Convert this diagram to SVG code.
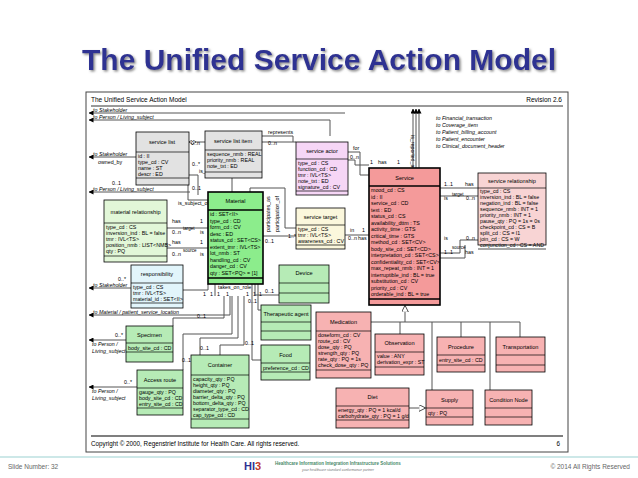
<svg xmlns="http://www.w3.org/2000/svg" width="638" height="478" viewBox="0 0 638 478">
<style>
text{font-family:"Liberation Sans",Arial,sans-serif;fill:#000}
.a{font-size:5.3px}
.h{font-size:5.6px;text-anchor:middle}
.l{font-size:5.3px}
.i{font-size:5.3px;font-style:italic}
.b{stroke:#000;stroke-width:0.8}
.bb{stroke:#000;stroke-width:1.6}
.c{fill:none;stroke:#555;stroke-width:1}
.s{stroke:#000;stroke-width:0.7}
.gr{fill:#e2e2e2}.pu{fill:#f6d6f6}.rd{fill:#f49a9a}.pk{fill:#f8d4d4}.ye{fill:#fbf7dc}.gn{fill:#8ced8c}.lg{fill:#e2f7d8}.lb{fill:#e2f5fb}.mg{fill:#b6ebb6}.pr{fill:#f7b2b2}
</style>
<defs>
<marker id="fa" viewBox="0 0 10 10" refX="9" refY="5" markerWidth="5" markerHeight="5" orient="auto"><path d="M0,0L10,5L0,10z" fill="#000"/></marker>
<marker id="ha" viewBox="0 0 10 10" refX="9" refY="5" markerWidth="7" markerHeight="7" orient="auto"><path d="M0,0L10,5L0,10z" fill="#fff" stroke="#000"/></marker>
<marker id="dm" viewBox="0 0 12 8" refX="0" refY="4" markerWidth="7" markerHeight="5" orient="auto"><path d="M0,4L6,0L12,4L6,8z" fill="#fff" stroke="#000"/></marker>
<filter id="sh"><feDropShadow dx="1.5" dy="1.5" stdDeviation="0.8" flood-color="#888"/></filter>
</defs>
<rect width="638" height="478" fill="#fff"/>
<text x="319" y="70" text-anchor="middle" style="font-size:30px;font-weight:bold;fill:#2e3192" filter="url(#sh)">The Unified Service Action Model</text>
<rect x="86" y="92" width="482" height="360" fill="#fff" stroke="#444" stroke-width="1"/>
<text x="91" y="102" style="font-size:6.5px">The Unified Service Action Model</text>
<text x="562" y="102" text-anchor="end" style="font-size:6.5px">Revision 2.6</text>
<line x1="91" y1="106" x2="563" y2="106" stroke="#000" stroke-width="0.8"/>
<line x1="91" y1="436" x2="563" y2="436" stroke="#000" stroke-width="1.2"/>
<text x="91" y="446" style="font-size:6.3px">Copyright © 2000, Regenstrief Institute for Health Care.  All rights reserved.</text>
<text x="560" y="446" text-anchor="end" style="font-size:6.3px">6</text>
<line x1="0" y1="457" x2="638" y2="457" stroke="#bde0e0" stroke-width="1.5"/>
<text x="8" y="469" style="font-size:6.5px;fill:#666">Slide Number: 32</text>
<text x="630" y="469" text-anchor="end" style="font-size:6.5px;fill:#666">© 2014 All Rights Reserved</text>
<text x="244" y="470" style="font-size:11px;font-weight:bold;fill:#2e3192">HI<tspan style="fill:#c0392b">3</tspan></text>
<text x="275" y="465" style="font-size:4.5px;font-weight:bold;fill:#4a8a6a">Healthcare Information Integration Infrastructure Solutions</text>
<text x="302" y="471" style="font-size:3.5px;font-style:italic;fill:#777">your healthcare standard conformance partner</text>

<g id="connectors">
<path class="c" d="M345,113H89" marker-end="url(#fa)"/>
<path class="c" d="M330,136V120H89" marker-end="url(#fa)"/>
<path class="c" d="M136,157H89" marker-end="url(#fa)"/>
<path class="c" d="M190,192H89" marker-end="url(#fa)"/>
<path class="c" d="M131,288H89" marker-end="url(#fa)"/>
<path class="c" d="M230,296V315H89" marker-end="url(#fa)"/>
<path class="c" d="M126,340H89" marker-end="url(#fa)"/>
<path class="c" d="M137,387H89" marker-end="url(#fa)"/>
<path class="c" d="M189,142H205" marker-start="url(#dm)"/>
<path class="c" d="M262,142H296"/>
<path class="c" d="M189,175H198V195"/>
<path class="c" d="M188,184V200H208"/>
<path class="c" d="M232,178V192"/>
<path class="c" d="M167,228H208"/>
<path class="c" d="M167,248H208"/>
<path class="c" d="M262,136H293V142"/>
<path class="c" d="M348,152H360V175H369"/>
<path class="c" d="M348,160H355V165H369"/>
<path class="c" d="M263,236H296"/>
<path class="c" d="M250,192V188H285V228H296"/>
<path class="c" d="M345,235H369"/>
<path class="c" d="M440,188H478"/>
<path class="c" d="M440,196H478"/>
<path class="c" d="M440,253H460V240H478"/>
<path class="c" d="M440,258H465V245"/>
<path class="c" d="M413,168V109" marker-end="url(#fa)"/>
<path class="c" d="M416,168V109" marker-end="url(#fa)"/>
<path class="c" d="M419,168V109" marker-end="url(#fa)"/>
<path class="c" d="M258,284V310H261"/>
<path class="c" d="M255,284V295H279"/>
<path class="c" d="M252,284V360H261"/>
<path class="c" d="M244,296V345H220V355"/>
<path class="c" d="M238,296V338H200V355"/>
<path class="c" d="M232,296V334H183V370"/>
<path class="c" d="M224,296V318H173V326"/>
<path class="c" d="M215,284V296"/>
<path class="c" d="M208,284V290H183"/>
<path class="c" d="M405,322V306" marker-end="url(#ha)"/>
<path class="c" d="M371,322H520"/>
<path class="c" d="M400,322V334M461,322V337M520,322V337M432,322V390M490,322V390"/>
<path class="c" d="M409,408H425" marker-end="url(#ha)"/>
</g>

<g id="edge-labels">
<text class="i" x="93" y="112">to Stakeholder</text>
<text class="i" x="93" y="119">to Person / Living_subject</text>
<text class="i" x="93" y="156">to Stakeholder</text>
<text class="l" x="98" y="164">owned_by</text>
<text class="l" x="112" y="185">0..1</text>
<text class="i" x="93" y="191">to Person / Living_subject</text>
<text class="l" x="118" y="281">0..*</text>
<text class="i" x="93" y="287">to Stakeholder</text>
<text class="i" x="93" y="314">to Material / patient_service_location</text>
<text class="l" x="115" y="337">0..*</text>
<text class="i" x="92" y="346">to Person /</text>
<text class="i" x="92" y="353">Living_subject</text>
<text class="l" x="124" y="384">0..*</text>
<text class="i" x="92" y="393">to Person /</text>
<text class="i" x="92" y="400">Living_subject</text>
<text class="l" x="191" y="145">0..n</text>
<text class="l" x="268" y="134">represents</text>
<text class="l" x="268" y="145">0..n</text>
<text class="l" x="192" y="166">0..*</text>
<text class="l" x="199" y="173">is_about</text>
<text class="l" x="192" y="190">0..1</text>
<text class="l" x="178" y="205">is_subject_of</text>
<text class="l" x="172" y="223">has</text><text class="l" x="200" y="223">1</text>
<text class="l" x="172" y="234">0..n</text><text class="l" x="183" y="230" style="font-size:4.5px">target</text><text class="l" x="200" y="234">is</text>
<text class="l" x="172" y="244">has</text><text class="l" x="200" y="244">1</text>
<text class="l" x="172" y="256">0..n</text><text class="l" x="183" y="252" style="font-size:4.5px">source</text><text class="l" x="200" y="256">is</text>
<text class="l" x="353" y="150">for</text>
<text class="l" x="350" y="159">0..n</text>
<text class="l" x="370" y="164">1</text><text class="l" x="378" y="164">has</text><text class="l" x="397" y="164">1</text>
<text class="l" x="265" y="243">0..1</text>
<text class="l" x="270" y="232" transform="rotate(-90 270 232)">participates_as</text>
<text class="l" x="279" y="232" transform="rotate(-90 279 232)">participation_of</text>
<text class="l" x="288" y="238">1..*</text>
<text class="l" x="350" y="232">in</text><text class="l" x="362" y="232">1</text>
<text class="l" x="348" y="240">0..n</text><text class="l" x="358" y="240">has</text>
<text class="l" x="411" y="135" transform="rotate(90 411 135)">is_reported_as</text>
<text class="i" x="436" y="120">to Financial_transaction</text>
<text class="i" x="436" y="127">to Coverage_item</text>
<text class="i" x="436" y="134">to Patient_billing_account</text>
<text class="i" x="436" y="141">to Patient_encounter</text>
<text class="i" x="436" y="148">to Clinical_document_header</text>
<text class="l" x="444" y="186">1..1</text><text class="l" x="465" y="186">has</text>
<text class="l" x="444" y="200">is</text><text class="l" x="452" y="196" style="font-size:4.5px">target</text><text class="l" x="466" y="200">0..n</text>
<text class="l" x="444" y="240">is</text><text class="l" x="466" y="240">0..n</text>
<text class="l" x="444" y="254">1..1</text><text class="l" x="452" y="249" style="font-size:4.5px">source</text><text class="l" x="465" y="254">has</text>
<text class="l" x="218" y="289">takes_on_role</text>
<text class="l" x="203" y="296">1</text><text class="l" x="210" y="296">1</text><text class="l" x="217" y="296">1</text><text class="l" x="226" y="296">1</text>
<text class="l" x="246" y="296">1</text><text class="l" x="253" y="296">1</text><text class="l" x="259" y="296">1</text><text class="l" x="265" y="293">0..1</text>
<text class="l" x="248" y="303">0..1</text>
<text class="l" x="197" y="318">0..1</text>
<text class="l" x="200" y="350">0..1</text>
<text class="l" x="182" y="362">0..1</text>
<text class="l" x="245" y="345">0..1</text>
</g>

<g id="service-list"><rect class="gr b" x="136" y="132" width="53" height="53"/><line class="s" x1="136" y1="152" x2="189" y2="152"/><line class="s" x1="136" y1="178" x2="189" y2="178"/><text class="h" x="162" y="144">service list</text><text class="a" x="138" y="158">id : II</text><text class="a" x="138" y="164">type_cd : CV</text><text class="a" x="138" y="170">name : ST</text><text class="a" x="138" y="176">descr : ED</text></g>
<g id="service-list-item"><rect class="gr b" x="205" y="131" width="57" height="47"/><line class="s" x1="205" y1="150" x2="262" y2="150"/><line class="s" x1="205" y1="172" x2="262" y2="172"/><text class="h" x="233" y="143">service list item</text><text class="a" x="207" y="156">sequence_nmb : REAL</text><text class="a" x="207" y="162">priority_nmb : REAL</text><text class="a" x="207" y="168">note_txt : ED</text></g>
<g id="service-actor"><rect class="pu b" x="296" y="142" width="52" height="53"/><line class="s" x1="296" y1="159" x2="348" y2="159"/><line class="s" x1="296" y1="191" x2="348" y2="191"/><text class="h" x="322" y="153">service actor</text><text class="a" x="298" y="165">type_cd : CS</text><text class="a" x="298" y="171">function_cd : CD</text><text class="a" x="298" y="177">tmr : IVL&lt;TS&gt;</text><text class="a" x="298" y="183">note_txt : ED</text><text class="a" x="298" y="189">signature_cd : CV</text></g>
<g id="service"><rect class="rd bb" x="369" y="168" width="71" height="137"/><line class="bb" x1="369" y1="186" x2="440" y2="186"/><line class="bb" x1="369" y1="299" x2="440" y2="299"/><text class="h" x="404.5" y="180">Service</text>
<text class="a" x="371" y="192">mood_cd : CS</text><text class="a" x="371" y="198.5">id : II</text><text class="a" x="371" y="205">service_cd : CD</text><text class="a" x="371" y="211.5">text : ED</text><text class="a" x="371" y="218">status_cd : CS</text><text class="a" x="371" y="224.5">availability_dttm : TS</text><text class="a" x="371" y="231">activity_time : GTS</text><text class="a" x="371" y="237.5">critical_time : GTS</text><text class="a" x="371" y="244">method_cd : SET&lt;CV&gt;</text><text class="a" x="371" y="250.5">body_site_cd : SET&lt;CD&gt;</text><text class="a" x="371" y="257">interpretation_cd : SET&lt;CS&gt;</text><text class="a" x="371" y="263.5">confidentiality_cd : SET&lt;CV&gt;</text><text class="a" x="371" y="270">max_repeat_nmb : INT = 1</text><text class="a" x="371" y="276.5">interruptible_ind : BL = true</text><text class="a" x="371" y="283">substitution_cd : CV</text><text class="a" x="371" y="289.5">priority_cd : CV</text><text class="a" x="371" y="296">orderable_ind : BL = true</text></g>
<g id="service-relationship"><rect class="pk b" x="478" y="173" width="68" height="72"/><line class="s" x1="478" y1="188" x2="546" y2="188"/><line class="s" x1="478" y1="249" x2="546" y2="249"/><text class="h" x="512" y="183">service relationship</text><text class="a" x="480" y="193">type_cd : CS</text><text class="a" x="480" y="199">inversion_ind : BL = false</text><text class="a" x="480" y="205">negation_ind : BL = false</text><text class="a" x="480" y="211">sequence_nmb : INT = 1</text><text class="a" x="480" y="217">priority_nmb : INT = 1</text><text class="a" x="480" y="223">pause_qty : PQ = 1s = 0s</text><text class="a" x="480" y="229">checkpoint_cd : CS = B</text><text class="a" x="480" y="235">split_cd : CS = I1</text><text class="a" x="480" y="241">join_cd : CS = W</text><text class="a" x="480" y="247">conjunction_cd : CS = AND</text></g>
<g id="service-target"><rect class="ye b" x="296" y="208" width="49" height="41"/><line class="s" x1="296" y1="225" x2="345" y2="225"/><line class="s" x1="296" y1="245" x2="345" y2="245"/><text class="h" x="320.5" y="219">service target</text><text class="a" x="298" y="231">type_cd : CS</text><text class="a" x="298" y="237">tmr : IVL&lt;TS&gt;</text><text class="a" x="298" y="243">awareness_cd : CV</text></g>
<g id="material"><rect class="gn bb" x="208" y="192" width="55" height="92"/><line class="bb" x1="208" y1="210" x2="263" y2="210"/><line class="bb" x1="208" y1="278" x2="263" y2="278"/><text class="h" x="235.5" y="203">Material</text><text class="a" x="210" y="216">id : SET&lt;II&gt;</text><text class="a" x="210" y="222.5">type_cd : CD</text><text class="a" x="210" y="229">form_cd : CV</text><text class="a" x="210" y="235.5">desc : ED</text><text class="a" x="210" y="242">status_cd : SET&lt;CS&gt;</text><text class="a" x="210" y="248.5">extent_tmr : IVL&lt;TS&gt;</text><text class="a" x="210" y="255">lot_nmb : ST</text><text class="a" x="210" y="261.5">handling_cd : CV</text><text class="a" x="210" y="268">danger_cd : CV</text><text class="a" x="210" y="274.5">qty : SET&lt;PQ&gt; = [1]</text></g>
<g id="material-relationship"><rect class="lg b" x="104" y="200" width="63" height="62"/><line class="s" x1="104" y1="223" x2="167" y2="223"/><line class="s" x1="104" y1="256" x2="167" y2="256"/><text class="h" x="135.5" y="214">material relationship</text><text class="a" x="106" y="229">type_cd : CS</text><text class="a" x="106" y="235">inversion_ind : BL = false</text><text class="a" x="106" y="241">tmr : IVL&lt;TS&gt;</text><text class="a" x="106" y="247">position_nmb : LIST&lt;NMB&gt;</text><text class="a" x="106" y="253">qty : PQ</text></g>
<g id="responsibility"><rect class="lb b" x="131" y="265" width="52" height="43"/><line class="s" x1="131" y1="283" x2="183" y2="283"/><line class="s" x1="131" y1="303" x2="183" y2="303"/><text class="h" x="157" y="276">responsibility</text><text class="a" x="133" y="289">type_cd : CS</text><text class="a" x="133" y="295">tmr : IVL&lt;TS&gt;</text><text class="a" x="133" y="301">material_id : SET&lt;II&gt;</text></g>
<g id="device"><rect class="mg b" x="279" y="265" width="50" height="38"/><line class="s" x1="279" y1="283" x2="329" y2="283"/><line class="s" x1="279" y1="293" x2="329" y2="293"/><text class="h" x="304" y="275">Device</text></g>
<g id="therapeutic-agent"><rect class="mg b" x="261" y="305" width="50" height="35"/><line class="s" x1="261" y1="322" x2="311" y2="322"/><line class="s" x1="261" y1="331" x2="311" y2="331"/><text class="h" x="286" y="316">Therapeutic agent</text></g>
<g id="specimen"><rect class="mg b" x="126" y="326" width="47" height="36"/><line class="s" x1="126" y1="343" x2="173" y2="343"/><line class="s" x1="126" y1="352" x2="173" y2="352"/><text class="h" x="149.5" y="337">Specimen</text><text class="a" x="128" y="350">body_site_cd : CD</text></g>
<g id="container"><rect class="mg b" x="191" y="355" width="58" height="73"/><line class="s" x1="191" y1="375" x2="249" y2="375"/><line class="s" x1="191" y1="419" x2="249" y2="419"/><text class="h" x="220" y="367">Container</text><text class="a" x="193" y="381">capacity_qty : PQ</text><text class="a" x="193" y="387">height_qty : PQ</text><text class="a" x="193" y="393">diameter_qty : PQ</text><text class="a" x="193" y="399">barrier_delta_qty : PQ</text><text class="a" x="193" y="405">bottom_delta_qty : PQ</text><text class="a" x="193" y="411">separator_type_cd : CD</text><text class="a" x="193" y="417">cap_type_cd : CD</text></g>
<g id="food"><rect class="mg b" x="261" y="345" width="49" height="35"/><line class="s" x1="261" y1="363" x2="310" y2="363"/><line class="s" x1="261" y1="372" x2="310" y2="372"/><text class="h" x="285.5" y="357">Food</text><text class="a" x="263" y="370">preference_cd : CD</text></g>
<g id="access-route"><rect class="mg b" x="137" y="370" width="46" height="45"/><line class="s" x1="137" y1="388" x2="183" y2="388"/><line class="s" x1="137" y1="408" x2="183" y2="408"/><text class="h" x="160" y="382">Access route</text><text class="a" x="139" y="394">gauge_qty : PQ</text><text class="a" x="139" y="400">body_site_cd : CD</text><text class="a" x="139" y="406">entry_site_cd : CD</text></g>
<g id="medication"><rect class="pr b" x="316" y="312" width="55" height="66"/><line class="s" x1="316" y1="331" x2="371" y2="331"/><line class="s" x1="316" y1="370" x2="371" y2="370"/><text class="h" x="343.5" y="324">Medication</text><text class="a" x="318" y="337">doseform_cd : CV</text><text class="a" x="318" y="343">route_cd : CV</text><text class="a" x="318" y="349">dose_qty : PQ</text><text class="a" x="318" y="355">strength_qty : PQ</text><text class="a" x="318" y="361">rate_qty : PQ = 1s</text><text class="a" x="318" y="367">check_dose_qty : PQ</text></g>
<g id="observation"><rect class="pr b" x="375" y="334" width="49" height="41"/><line class="s" x1="375" y1="352" x2="424" y2="352"/><line class="s" x1="375" y1="367" x2="424" y2="367"/><text class="h" x="399.5" y="345">Observation</text><text class="a" x="377" y="358">value : ANY</text><text class="a" x="377" y="364">derivation_expr : ST</text></g>
<g id="procedure"><rect class="pr b" x="437" y="337" width="48" height="35"/><line class="s" x1="437" y1="355" x2="485" y2="355"/><line class="s" x1="437" y1="365" x2="485" y2="365"/><text class="h" x="461" y="349">Procedure</text><text class="a" x="439" y="362">entry_site_cd : CD</text></g>
<g id="transportation"><rect class="pr b" x="496" y="337" width="49" height="35"/><line class="s" x1="496" y1="355" x2="545" y2="355"/><line class="s" x1="496" y1="365" x2="545" y2="365"/><text class="h" x="520.5" y="349">Transportation</text></g>
<g id="diet"><rect class="pr b" x="336" y="388" width="73" height="40"/><line class="s" x1="336" y1="406" x2="409" y2="406"/><line class="s" x1="336" y1="420" x2="409" y2="420"/><text class="h" x="372.5" y="399">Diet</text><text class="a" x="338" y="412">energy_qty : PQ = 1 kcal/d</text><text class="a" x="338" y="418">carbohydrate_qty : PQ = 1 g/d</text></g>
<g id="supply"><rect class="pr b" x="426" y="390" width="47" height="35"/><line class="s" x1="426" y1="408" x2="473" y2="408"/><line class="s" x1="426" y1="417" x2="473" y2="417"/><text class="h" x="449.5" y="402">Supply</text><text class="a" x="428" y="415">qty : PQ</text></g>
<g id="condition-node"><rect class="pr b" x="485" y="390" width="47" height="35"/><line class="s" x1="485" y1="408" x2="532" y2="408"/><line class="s" x1="485" y1="417" x2="532" y2="417"/><text class="h" x="508.5" y="402">Condition Node</text></g>
</svg>
